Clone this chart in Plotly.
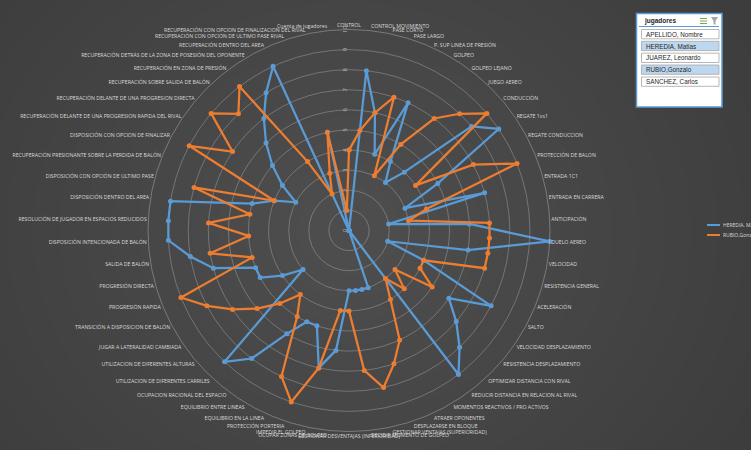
import plotly.graph_objects as go

categories = [
    "CONTROL", "CONTROL MOVIMIENTO", "PASE CORTO", "PASE LARGO", "P. SUP LINEA DE PRESIÓN",
    "GOLPEO", "GOLPEO LEJANO", "JUEGO AEREO", "CONDUCCIÓN", "REGATE 1vs1",
    "REGATE CONDUCCION", "PROTECCIÓN DE BALON", "ENTRADA 1C1", "ENTRADA EN CARRERA", "ANTICIPACIÓN",
    "DUELO AEREO", "VELOCIDAD", "RESISTENCIA GENERAL", "ACELERACIÓN", "SALTO",
    "VELOCIDAD DESPLAZAMIENTO", "RESISTENCIA DESPLAZAMIENTO", "OPTIMIZAR DISTANCIA CON RIVAL",
    "REDUCIR DISTANCIA EN RELACION AL RIVAL", "MOMENTOS REACTIVOS / PRO ACTIVOS",
    "ATRAER OPONENTES", "DESPLAZARSE EN BLOQUE", "GESTIONAR VENTAJAS (SUPERIORIDAD)",
    "DECIDIR MOMENTO DE GOLPEO", "GESTIONAR DESVENTAJAS (INFERIORIDAD)",
    "OCUPAR ZONAS DE GOLPEO", "IMPEDIR EL GOLPEO", "PROTECCIÓN PORTERIA", "EQUILIBRIO EN LA LINEA",
    "EQUILIBRIO ENTRE LINEAS", "OCUPACION RACIONAL DEL ESPACIO", "UTILIZACION DE DIFERENTES CARRILES",
    "UTILIZACION DE DIFERENTES ALTURAS", "JUGAR A LATERALIDAD CAMBIADA",
    "TRANSICIÓN A DISPOSICION DE BALÓN", "PROGRESIÓN RAPIDA", "PROGRESIÓN DIRECTA",
    "SALIDA DE BALÓN", "DISPOSICIÓN INTENCIONADA DE BALÓN",
    "RESOLUCIÓN DE JUGADOR EN ESPACIOS REDUCIDOS", "DISPOSICIÓN DENTRO DEL AREA",
    "DISPOSICIÓN CON OPCIÓN DE ULTIMO PASE", "RECUPERACIÓN PRESIONANTE SOBRE LA PERDIDA DE BALÓN",
    "DISPOSICIÓN CON OPCION DE FINALIZAR", "RECUPERACIÓN DELANTE DE UNA PROGRESION RAPIDA DEL RIVAL",
    "RECUPERACIÓN DELANTE DE UNA PROGRESION DIRECTA", "RECUPERACIÓN SOBRE SALIDA DE BALÓN",
    "RECUPERACIÓN EN ZONA DE PRESIÓN", "RECUPERACIÓN DETRÁS DE LA ZONA DE POSESIÓN DEL OPONENTE",
    "RECUPERACIÓN DENTRO DEL AREA", "RECUPERACIÓN CON OPCION DE ULTIMO PASE RIVAL",
    "RECUPERACIÓN CON OPCION DE FINALIZACION DEL RIVAL", "Cuenta de jugadores",
]

heredia = [0, 8, 6, 4, 7, 4, 3, 4, 8, 9,
           5, 3, 7, 2, 6, 10, 6, 2, 4, 8,
           6, 7, 8, 9, 0, 0, 3, 3, 3, 3,
           6, 7, 5, 5, 6, 8, 9, 3, 4, 5,
           5, 7, 8, 9, 9, 9, 5, 4, 3, 4,
           5, 6, 7, 8, 9, 0, 5, 0]

rubio = [4, 5, 6, 7, 3, 5, 7, 8, 9, 4,
         7, 9, 4, 3, 7, 7, 7, 7, 4, 4,
         5, 3, 4, 3, 4, 6, 7, 8, 7, 4,
         4, 7, 9, 8, 5, 4, 5, 6, 7, 8,
         9, 5, 7, 5, 7, 5, 8, 4, 9, 7,
         9, 8, 9, 4, 2, 3, 5, 1]

series_names = ["HEREDIA, Matias", "RUBIO,Gonzalo"]
series_colors = ["#5B9BD5", "#ED7D31"]
slicer_items = ["APELLIDO, Nombre", "HEREDIA, Matias", "JUAREZ, Leonardo", "RUBIO,Gonzalo", "SANCHEZ, Carlos"]
slicer_selected = [False, True, False, True, False]

W, H = 751, 450
CX, CY, R = 349, 230.5, 201


def px(x):
    return x / W


def py(y):
    return 1 - y / H


fig = go.Figure()
for name, vals, col in zip(series_names, [heredia, rubio], series_colors):
    fig.add_trace(go.Scatterpolar(
        r=vals + vals[:1], theta=categories + categories[:1], mode="lines+markers",
        name=name, line=dict(color=col, width=2.25), marker=dict(color=col, size=5),
        showlegend=False,
    ))

shapes = []
# smooth radial lightening of the background
for i in range(26):
    rr = 620 - i * 23
    shapes.append(dict(type="circle", xref="paper", yref="paper",
                       x0=px(CX - rr * 1.15), x1=px(CX + rr * 1.15), y0=py(CY + rr), y1=py(CY - rr),
                       fillcolor="rgba(255,255,255,0.0065)", line=dict(width=0), layer="below"))

# custom legend
for col, yy in zip(series_colors, [225, 235]):
    shapes.append(dict(type="line", xref="paper", yref="paper", x0=px(707), x1=px(720), y0=py(yy), y1=py(yy),
                       line=dict(color=col, width=2)))

# slicer
shapes.append(dict(type="rect", xref="paper", yref="paper", x0=px(636.5), x1=px(722), y0=py(107), y1=py(13.5),
                   fillcolor="white", line=dict(color="#5B9BD5", width=1.5)))
shapes.append(dict(type="line", xref="paper", yref="paper", x0=px(639), x1=px(719), y0=py(26.5), y1=py(26.5),
                   line=dict(color="#5B9BD5", width=1)))
item_tops = [29.5, 41.3, 53.2, 65.0, 77.0]
for top, sel in zip(item_tops, slicer_selected):
    shapes.append(dict(type="rect", xref="paper", yref="paper", x0=px(641.5), x1=px(719), y0=py(top + 9.3), y1=py(top),
                       fillcolor="#BDD7EE" if sel else "white", line=dict(color="#A6A6A6", width=0.8)))
# slicer icons
for dy in [18.5, 21, 23.5]:
    shapes.append(dict(type="line", xref="paper", yref="paper", x0=px(700), x1=px(707), y0=py(dy), y1=py(dy),
                       line=dict(color="#70AD47", width=1)))
shapes.append(dict(type="path", xref="paper", yref="paper",
                   path=f"M {px(711)},{py(17)} L {px(718)},{py(17)} L {px(715.5)},{py(21)} L {px(715.5)},{py(25)} L {px(713.5)},{py(24)} L {px(713.5)},{py(21)} Z",
                   fillcolor="#A6A6A6", line=dict(width=0)))

annotations = []
for name, yy in zip(series_names, [225, 235]):
    annotations.append(dict(x=px(721), y=py(yy), xref="paper", yref="paper", text=name, showarrow=False,
                            xanchor="left", yanchor="middle", font=dict(size=5, color="#D9D9D9", family="Open Sans")))
annotations.append(dict(x=px(642), y=py(20.5), xref="paper", yref="paper", text="<b>jugadores</b>", showarrow=False,
                        xanchor="left", yanchor="middle", font=dict(size=6.5, color="#262626", family="Liberation Sans")))
for top, item in zip(item_tops, slicer_items):
    annotations.append(dict(x=px(644), y=py(top + 4.8), xref="paper", yref="paper", text=item, showarrow=False,
                            xanchor="left", yanchor="middle", font=dict(size=6.3, color="#262626", family="Liberation Sans")))

fig.update_layout(
    width=W, height=H, margin=dict(l=0, r=0, t=0, b=0),
    paper_bgcolor="#333333", plot_bgcolor="rgba(0,0,0,0)",
    polar=dict(
        domain=dict(x=[px(CX - R), px(CX + R)], y=[py(CY + R), py(CY - R)]),
        bgcolor="rgba(0,0,0,0)",
        angularaxis=dict(direction="clockwise", rotation=90, showgrid=False, showline=True,
                         linecolor="rgba(217,217,217,0.35)", linewidth=1, ticks="",
                         tickfont=dict(size=5.2, color="#D9D9D9", family="Open Sans")),
        radialaxis=dict(range=[0, 10], dtick=1, angle=90, tickangle=0, showline=False, ticks="",
                        gridcolor="rgba(217,217,217,0.3)", gridwidth=1, layer="below traces",
                        tickfont=dict(size=6, color="#BFBFBF", family="Open Sans"), side="counterclockwise"),
    ),
    shapes=shapes, annotations=annotations, showlegend=False,
)

fig.write_html("out.html", config={"displayModeBar": False},
               post_script="document.body.style.margin='0';document.body.style.overflow='hidden';")
